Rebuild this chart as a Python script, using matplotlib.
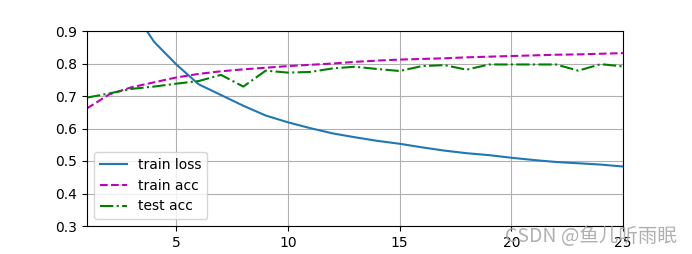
import matplotlib.pyplot as plt

epochs = list(range(1, 26))
train_loss = [1.50, 1.12, 0.97, 0.867, 0.797, 0.736, 0.703, 0.670, 0.640, 0.619,
              0.601, 0.585, 0.573, 0.562, 0.553, 0.542, 0.532, 0.524, 0.518, 0.510,
              0.503, 0.497, 0.493, 0.489, 0.483]
train_acc = [0.662, 0.705, 0.727, 0.742, 0.757, 0.768, 0.776, 0.782, 0.787, 0.792,
             0.796, 0.800, 0.805, 0.809, 0.812, 0.814, 0.816, 0.819, 0.821, 0.823,
             0.825, 0.827, 0.828, 0.830, 0.832]
test_acc = [0.695, 0.708, 0.722, 0.729, 0.738, 0.746, 0.765, 0.729, 0.778, 0.772,
            0.774, 0.785, 0.790, 0.783, 0.777, 0.792, 0.795, 0.781, 0.797, 0.797,
            0.797, 0.797, 0.778, 0.798, 0.791]

fig = plt.figure(figsize=(6.92, 2.54), dpi=100)
ax = fig.add_axes([87 / 692, 1 - 226 / 254, 536 / 692, 195 / 254])

ax.plot(epochs, train_loss, "-", label="train loss")
ax.plot(epochs, train_acc, "m--", label="train acc")
ax.plot(epochs, test_acc, "g-.", label="test acc")

ax.set_xlim(1, 25)
ax.set_ylim(0.3, 0.9)
ax.set_xticks([5, 10, 15, 20, 25])
ax.set_yticks([0.3, 0.4, 0.5, 0.6, 0.7, 0.8, 0.9])
ax.grid(True)
ax.legend(loc="lower left")

# watermark
fig.text(677 / 692, 1 - 236 / 254, "CSDN @鱼儿听雨眠", ha="right", va="center",
         fontsize=14, color="#a8a8a8", alpha=0.9, zorder=10,
         family=["Noto Sans CJK SC", "DejaVu Sans"])

fig.savefig("out.png", dpi=100)
